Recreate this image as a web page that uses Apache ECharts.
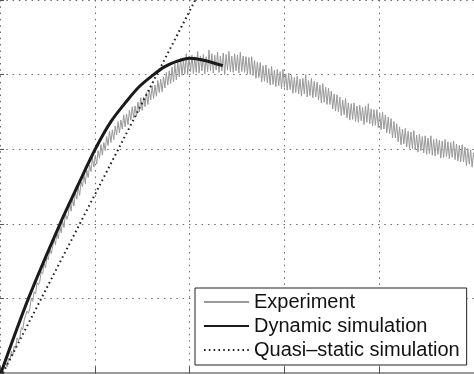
<!DOCTYPE html>
<html>
<head>
<meta charset="utf-8">
<script src="https://cdn.jsdelivr.net/npm/echarts@6/dist/echarts.min.js"></script>
<style>
html,body{margin:0;padding:0;background:#fff;}
#c{width:474px;height:374px;}
</style>
</head>
<body>
<div id="c"></div>
<script>
// Legend / series names
const seriesNames = ['Experiment', 'Dynamic simulation', 'Quasi\u2013static simulation'];

const expX = [
0.015,0.03,0.045,0.06,0.075,0.09,0.105,0.12,0.135,0.15,0.165,0.18,0.195,0.21,0.225,0.24,0.255,0.27,0.285,0.3,
0.315,0.33,0.345,0.36,0.375,0.39,0.405,0.42,0.435,0.45,0.465,0.48,0.495,0.51,0.525,0.54,0.555,0.57,0.585,0.6,
0.615,0.63,0.645,0.66,0.675,0.69,0.705,0.72,0.735,0.75,0.765,0.78,0.795,0.81,0.825,0.84,0.855,0.87,0.885,0.9,
0.915,0.93,0.945,0.96,0.975,0.99,1.005,1.02,1.035,1.05,1.065,1.08,1.095,1.11,1.125,1.14,1.155,1.17,1.185,1.2,
1.215,1.23,1.245,1.26,1.275,1.29,1.305,1.32,1.335,1.35,1.365,1.38,1.395,1.41,1.425,1.44,1.455,1.47,1.485,1.5,
1.515,1.53,1.545,1.56,1.575,1.59,1.605,1.62,1.635,1.65,1.665,1.68,1.695,1.71,1.725,1.74,1.755,1.77,1.785,1.8,
1.815,1.83,1.845,1.86,1.875,1.89,1.905,1.92,1.935,1.95,1.965,1.98,1.995,2.01,2.025,2.04,2.055,2.07,2.085,2.1,
2.115,2.13,2.145,2.16,2.175,2.19,2.205,2.22,2.235,2.25,2.265,2.28,2.295,2.31,2.325,2.34,2.355,2.37,2.385,2.4,
2.415,2.43,2.445,2.46,2.475,2.49,2.505,2.52,2.535,2.55,2.565,2.58,2.595,2.61,2.625,2.64,2.655,2.67,2.685,2.7,
2.715,2.73,2.745,2.76,2.775,2.79,2.805,2.82,2.835,2.85,2.865,2.88,2.895,2.91,2.925,2.94,2.955,2.97,2.985,3.0,
3.015,3.03,3.045,3.06,3.075,3.09,3.105,3.12,3.135,3.15,3.165,3.18,3.195,3.21,3.225,3.24,3.255,3.27,3.285,3.3,
3.315,3.33,3.345,3.36,3.375,3.39,3.405,3.42,3.435,3.45,3.465,3.48,3.495,3.51,3.525,3.54,3.555,3.57,3.585,3.6,
3.615,3.63,3.645,3.66,3.675,3.69,3.705,3.72,3.735,3.75,3.765,3.78,3.795,3.81,3.825,3.84,3.855,3.87,3.885,3.9,
3.915,3.93,3.945,3.96,3.975,3.99,4.005,4.02,4.035,4.05,4.065,4.08,4.095,4.11,4.125,4.14,4.155,4.17,4.185,4.2,
4.215,4.23,4.245,4.26,4.275,4.29,4.305,4.32,4.335,4.35,4.365,4.38,4.395,4.41,4.425,4.44,4.455,4.47,4.485,4.5,
4.515,4.53,4.545,4.56,4.575,4.59,4.605,4.62,4.635,4.65,4.665,4.68,4.695,4.71,4.725,4.74,4.755,4.77,4.785,4.8,
4.815,4.83,4.845,4.86,4.875,4.89,4.905,4.92,4.935,4.95,4.965,4.98,4.995,5.01];
const expY = [
0.00,0.04,0.03,0.13,0.08,0.20,0.17,0.29,0.24,0.36,0.33,0.47,0.43,0.48,0.61,0.58,0.71,0.69,0.83,0.80,
0.87,1.00,0.96,1.09,1.06,1.21,1.18,1.23,1.36,1.33,1.47,1.41,1.55,1.52,1.66,1.60,1.69,1.80,1.72,1.88,
1.80,1.98,1.88,2.04,1.95,2.14,2.06,2.12,2.28,2.17,2.34,2.24,2.43,2.33,2.49,2.38,2.56,2.50,2.66,2.54,
2.72,2.62,2.79,2.70,2.89,2.76,2.92,2.80,2.98,2.88,3.06,2.92,3.09,2.98,3.17,3.05,3.24,3.09,3.26,3.13,
3.31,3.19,3.37,3.22,3.39,3.27,3.46,3.30,3.47,3.33,3.52,3.39,3.57,3.42,3.58,3.44,3.63,3.50,3.69,3.52,
3.70,3.57,3.76,3.60,3.79,3.66,3.85,3.68,3.86,3.71,3.92,3.76,3.94,3.77,3.97,3.82,4.03,3.86,4.05,3.88,
4.10,3.90,4.14,3.93,4.18,3.97,4.22,3.99,4.19,4.01,4.28,4.00,4.25,4.04,4.26,4.01,4.24,4.03,4.31,4.02,
4.25,4.05,4.27,4.01,4.24,4.04,4.33,4.05,4.28,4.02,4.26,4.06,4.30,4.03,4.25,4.05,4.29,4.00,4.27,4.06,
4.31,4.04,4.25,4.03,4.28,4.05,4.26,4.02,4.30,4.04,4.25,4.03,4.24,4.01,4.23,4.00,4.24,3.99,4.19,3.95,
4.17,3.96,4.16,3.90,4.12,3.91,4.13,3.89,4.08,3.86,4.11,3.87,4.06,3.84,4.07,3.85,4.04,3.81,4.07,3.83,
4.01,3.79,4.02,3.80,3.99,3.75,3.96,3.76,3.98,3.74,3.94,3.71,3.95,3.74,4.00,3.70,3.92,3.72,3.95,3.69,
3.91,3.70,3.90,3.66,3.86,3.62,3.88,3.63,3.83,3.60,3.82,3.60,3.78,3.54,3.74,3.51,3.73,3.50,3.70,3.45,
3.66,3.46,3.68,3.42,3.62,3.39,3.61,3.40,3.62,3.37,3.58,3.36,3.59,3.38,3.56,3.33,3.58,3.36,3.61,3.34,
3.54,3.31,3.53,3.32,3.53,3.29,3.49,3.26,3.50,3.27,3.46,3.22,3.43,3.21,3.41,3.15,3.37,3.15,3.34,3.10,
3.30,3.06,3.27,3.07,3.28,3.03,3.24,3.01,3.23,3.01,3.25,2.99,3.19,2.96,3.20,2.98,3.17,2.95,3.18,2.93,
3.15,2.94,3.18,2.92,3.13,2.91,3.14,2.93,3.12,2.88,3.11,2.89,3.13,2.90,3.10,2.87,3.09,2.89,3.11,2.86,
3.07,2.84,3.05,2.83,3.06,2.83,3.03,2.78,3.01,2.80,2.99,2.76,2.95,2.80];

// Dynamic simulation
const dynX = [0.01,0.30,0.63,0.82,1.00,1.17,1.34,1.47,1.60,1.73,1.87,2.00,2.16,2.35];
const dynY = [0.00,1.00,1.99,2.51,2.99,3.37,3.65,3.84,3.98,4.10,4.18,4.22,4.19,4.12];

// Quasi-static simulation
const qsX = [0.03,2.08];
const qsY = [0.00,5.05];

// Axis ticks (no labels visible in the crop)
const xTicks = [0, 1, 2, 3, 4, 5];
const yTicks = [0, 1, 2, 3, 4, 5];

const pairs = (xs, ys) => xs.map((x, i) => [x, ys[i]]);

const chart = echarts.init(document.getElementById('c'), null, {renderer: 'canvas'});
const gridDots = {show: true, lineStyle: {color: '#6a6a6a', width: 1, type: [1.5, 4.8]}};
const tickIn = (len) => ({show: true, inside: true, length: len, lineStyle: {color: '#555', width: 1}});
const xRange = {min: xTicks[0], max: xTicks[xTicks.length - 1], interval: xTicks[1] - xTicks[0]};
const yRange = {min: yTicks[0], max: yTicks[yTicks.length - 1], interval: yTicks[1] - yTicks[0]};

chart.setOption({
  animation: false,
  backgroundColor: '#fff',
  grid: {left: 0, right: 0, top: -1, bottom: 1, containLabel: false},
  xAxis: [
    Object.assign({type: 'value', position: 'bottom',
     axisLine: {show: true, lineStyle: {color: '#9a9a9a', width: 2}},
     axisTick: tickIn(6), axisLabel: {show: false}, splitLine: gridDots}, xRange),
    Object.assign({type: 'value', position: 'top',
     axisLine: {show: false}, axisTick: tickIn(5), axisLabel: {show: false}, splitLine: {show: false}}, xRange)
  ],
  yAxis: [
    Object.assign({type: 'value', position: 'left',
     axisLine: {show: false}, axisTick: tickIn(4), axisLabel: {show: false}, splitLine: gridDots}, yRange),
    Object.assign({type: 'value', position: 'right',
     axisLine: {show: false}, axisTick: tickIn(4), axisLabel: {show: false}, splitLine: {show: false}}, yRange)
  ],
  legend: {
    left: 195, top: 288,
    orient: 'vertical',
    backgroundColor: '#fff',
    borderColor: '#222', borderWidth: 1, borderRadius: 0,
    padding: [4, 7, 5, 8],
    itemGap: 4,
    itemWidth: 45, itemHeight: 18,
    itemStyle: {opacity: 0, borderWidth: 0},
    textStyle: {fontFamily: 'Liberation Sans, Arial, sans-serif', fontSize: 20, lineHeight: 20, color: '#111'},
    data: seriesNames
  },
  series: [
    {name: seriesNames[0], type: 'line', data: pairs(expX, expY), symbol: 'none', showSymbol: false,
     lineStyle: {color: '#989898', width: 1}, itemStyle: {color: '#989898'}, z: 2},
    {name: seriesNames[1], type: 'line', data: pairs(dynX, dynY), symbol: 'none', showSymbol: false,
     smooth: 0.3,
     lineStyle: {color: '#1a1a1a', width: 3}, itemStyle: {color: '#1a1a1a'}, z: 3},
    {name: seriesNames[2], type: 'line', data: pairs(qsX, qsY), symbol: 'none', showSymbol: false,
     lineStyle: {color: '#222', width: 2, type: [1.6, 3.2]}, itemStyle: {color: '#222'}, z: 4}
  ]
});
</script>
</body>
</html>
